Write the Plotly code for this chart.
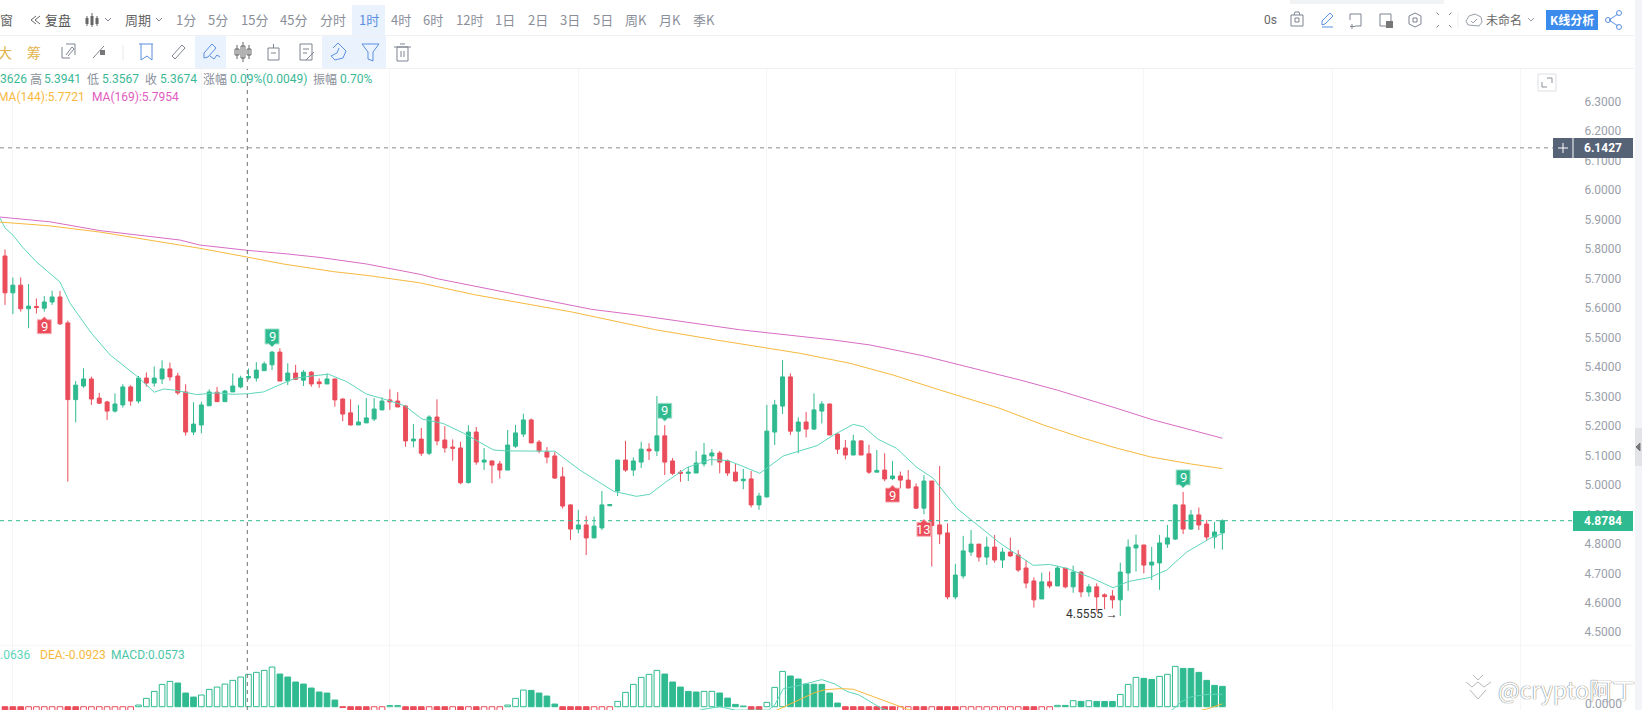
import plotly.graph_objects as go

W, H = 1649, 710

open_ = [5.776,5.651,5.677,5.597,5.605,5.599,5.620,5.637,5.549,5.289,5.335,5.359,5.294,5.281,5.250,5.271,5.332,5.284,5.362,5.345,5.359,5.393,5.369,5.315,5.179,5.203,5.268,5.314,5.282,5.315,5.332,5.3626,5.362,5.387,5.407,5.450,5.352,5.379,5.355,5.382,5.349,5.342,5.359,5.291,5.244,5.203,5.210,5.223,5.254,5.288,5.284,
5.267,5.149,5.155,5.107,5.230,5.152,5.128,5.125,5.008,5.179,5.077,5.081,5.071,5.050,5.131,5.172,5.220,5.145,5.112,5.098,5.027,4.932,4.850,4.864,4.820,4.854,4.929,4.979,5.084,5.050,5.077,5.121,5.115,5.166,5.081,5.043,5.039,5.040,5.071,5.098,5.108,5.081,5.043,5.014,5.020,4.932,4.959,5.179,5.267,5.366,5.182,5.213,5.189,5.250,5.274,
5.172,5.125,5.101,5.149,5.105,5.043,5.050,5.021,5.030,5.016,4.993,4.921,5.013,4.864,4.837,4.620,4.691,4.772,4.799,4.755,4.789,4.745,4.772,4.762,4.718,4.674,4.613,4.671,4.657,4.717,4.654,4.704,4.637,4.654,4.627,4.623,4.610,4.701,4.786,4.796,4.728,4.735,4.799,4.816,4.932,4.850,4.898,4.867,4.823,4.837]
high = [5.798,5.703,5.703,5.681,5.632,5.640,5.658,5.657,5.557,5.352,5.395,5.367,5.312,5.285,5.310,5.341,5.338,5.369,5.381,5.401,5.422,5.414,5.380,5.341,5.280,5.282,5.324,5.332,5.322,5.378,5.370,5.3941,5.416,5.418,5.454,5.463,5.412,5.407,5.389,5.386,5.361,5.378,5.360,5.293,5.290,5.271,5.294,5.294,5.297,5.324,5.314,
5.271,5.206,5.193,5.236,5.290,5.199,5.154,5.146,5.202,5.196,5.125,5.082,5.081,5.186,5.203,5.241,5.225,5.152,5.128,5.111,5.060,4.934,4.915,4.895,4.892,4.979,4.933,5.084,5.149,5.093,5.146,5.141,5.301,5.202,5.091,5.050,5.062,5.115,5.142,5.121,5.115,5.086,5.071,5.054,5.047,4.973,5.271,5.288,5.423,5.378,5.229,5.247,5.310,5.284,5.276,
5.175,5.152,5.170,5.152,5.136,5.118,5.107,5.081,5.045,5.050,5.005,5.033,5.013,5.064,4.869,4.732,4.827,4.847,4.799,4.824,4.830,4.786,4.821,4.779,4.745,4.686,4.702,4.706,4.725,4.718,4.726,4.708,4.664,4.666,4.632,4.643,4.736,4.815,4.831,4.796,4.790,4.830,4.864,4.935,4.976,4.915,4.923,4.881,4.874,4.883]
low = [5.610,5.579,5.587,5.531,5.581,5.587,5.610,5.542,5.011,5.212,5.329,5.271,5.274,5.220,5.245,5.262,5.268,5.276,5.333,5.333,5.342,5.353,5.305,5.167,5.169,5.175,5.268,5.282,5.281,5.315,5.327,5.3567,5.350,5.387,5.389,5.352,5.338,5.355,5.335,5.333,5.329,5.342,5.265,5.216,5.201,5.203,5.210,5.216,5.254,5.254,5.264,
5.129,5.127,5.098,5.101,5.134,5.109,5.082,5.002,5.004,5.068,5.050,5.005,5.021,5.050,5.125,5.162,5.142,5.107,5.073,5.020,4.920,4.813,4.836,4.762,4.820,4.847,4.929,4.962,5.044,5.030,5.057,5.084,5.098,5.033,5.033,5.010,5.013,5.040,5.062,5.066,5.039,5.030,5.011,4.985,4.923,4.915,4.957,5.135,5.240,5.169,5.107,5.161,5.186,5.208,5.169,
5.105,5.086,5.101,5.101,5.037,5.043,5.012,5.016,4.988,4.989,4.918,4.900,4.723,4.799,4.612,4.612,4.682,4.759,4.740,4.728,4.736,4.718,4.755,4.705,4.649,4.584,4.613,4.649,4.657,4.649,4.634,4.619,4.621,4.570,4.578,4.581,4.5555,4.641,4.706,4.700,4.677,4.644,4.786,4.813,4.833,4.847,4.847,4.811,4.784,4.780]
close = [5.651,5.677,5.597,5.606,5.601,5.620,5.637,5.546,5.289,5.338,5.359,5.291,5.277,5.250,5.274,5.332,5.284,5.362,5.345,5.362,5.393,5.366,5.312,5.179,5.206,5.271,5.315,5.282,5.318,5.335,5.362,5.3674,5.389,5.410,5.450,5.352,5.379,5.358,5.382,5.342,5.343,5.359,5.288,5.240,5.203,5.213,5.227,5.257,5.284,5.281,5.264,
5.149,5.155,5.107,5.230,5.149,5.125,5.124,5.007,5.179,5.077,5.084,5.067,5.050,5.135,5.176,5.220,5.142,5.115,5.094,5.023,4.928,4.850,4.864,4.820,4.860,4.932,4.933,5.084,5.050,5.081,5.121,5.115,5.166,5.077,5.039,5.039,5.043,5.074,5.101,5.108,5.077,5.040,5.013,5.019,4.932,4.962,5.182,5.271,5.366,5.182,5.213,5.189,5.254,5.274,5.169,
5.121,5.101,5.149,5.101,5.043,5.049,5.020,5.030,5.016,4.989,4.921,5.013,4.862,4.833,4.620,4.694,4.776,4.799,4.755,4.789,4.745,4.772,4.759,4.711,4.667,4.610,4.671,4.657,4.718,4.654,4.704,4.637,4.654,4.620,4.621,4.610,4.704,4.789,4.796,4.728,4.738,4.803,4.820,4.932,4.850,4.898,4.864,4.823,4.840,4.8784]
candle_index = list(range(len(close)))

ma_x = [-0.64,0,1,2.2,4,5.7,7,8.3,11,13.4,17,19,20.2,21.6,24.4,27,29,31,32.9,34.6,36.9,39.3,41.2,43.5,46,48.6,50.9,53.1,55.8,58.4,62.2,63.9,70,73.2,77.5,80.4,82.1,84.2,86.8,89.8,92.1,94,96.1,99.1,101.2,103.4,105.5,108,109.3,111.2,113.5,116.1,118.2,121.2,123.3,126.7,130.9,133,135.2,138.2,141.1,143,145.8,147.9,150.5,153.8,155]
ma_v = [5.905,5.871,5.847,5.807,5.756,5.718,5.688,5.615,5.514,5.440,5.364,5.314,5.325,5.321,5.306,5.312,5.307,5.309,5.315,5.335,5.361,5.370,5.375,5.350,5.308,5.288,5.268,5.223,5.208,5.175,5.118,5.115,5.114,5.050,4.978,4.961,4.968,5.011,5.058,5.086,5.082,5.062,5.039,5.098,5.116,5.133,5.169,5.205,5.197,5.154,5.124,5.059,5.022,4.920,4.875,4.802,4.727,4.730,4.717,4.686,4.651,4.672,4.686,4.711,4.773,4.824,4.834]
ma144_x = [-0.64,5.7,12.1,24.8,30.9,35.4,41.8,46.4,52.8,59.9,72,82.8,90.6,97,101.2,107.6,113.1,119.1,126.7,132.2,137.3,141.6,145.8,150.9,155]
ma144_v = [5.891,5.878,5.857,5.802,5.772,5.749,5.723,5.709,5.685,5.644,5.587,5.526,5.491,5.463,5.446,5.412,5.372,5.321,5.259,5.203,5.158,5.124,5.095,5.071,5.055]
ma169_x = [-0.64,3.6,5.7,12.1,22.3,24.8,30.9,35.9,40.1,46,52.8,55.2,74.7,80.1,93.5,105.5,110.2,117,123.3,129.3,134,136.5,141.6,146.2,151.3,155]
ma169_v = [5.908,5.898,5.892,5.862,5.830,5.813,5.795,5.783,5.771,5.749,5.714,5.698,5.595,5.577,5.526,5.491,5.474,5.437,5.395,5.355,5.321,5.301,5.259,5.220,5.184,5.158]

macd_hist = [-0.05,-0.06,-0.07,-0.065,-0.06,-0.055,-0.05,-0.045,-0.09,-0.11,-0.10,-0.09,-0.08,-0.07,-0.055,-0.04,-0.02,
0.003,0.0148,0.0271,0.0395,0.0448,0.0419,0.0242,0.0171,0.0207,0.0307,0.0348,0.0401,0.0466,0.0525,0.0573,0.0608,0.0643,0.0702,0.0578,0.0525,0.0437,0.0401,0.0330,0.0260,0.0242,0.0118,
-0.0015,-0.012,-0.02,-0.03,-0.025,-0.02,0.002,0.002,-0.01,-0.02,-0.03,-0.028,-0.035,-0.04,-0.035,-0.04,-0.035,-0.04,-0.035,-0.025,-0.012,
0.003,0.0148,0.0295,0.0289,0.0242,0.0189,0.0047,-0.01,-0.02,-0.03,-0.04,-0.035,-0.03,-0.02,
0.0094,0.0254,0.0395,0.0519,0.0573,0.0643,0.0578,0.0437,0.0348,0.0271,0.0260,0.0271,0.0272,0.0242,0.0153,0.0041,0.0012,-0.005,-0.01,
0.0077,0.0342,0.0625,0.0543,0.0490,0.0401,0.0398,0.0395,0.0242,0.0065,
-0.005,-0.01,-0.015,-0.02,-0.025,-0.03,-0.035,-0.03,-0.025,-0.03,-0.035,-0.03,-0.035,-0.04,-0.045,-0.042,-0.039,-0.036,-0.033,-0.03,-0.027,-0.024,-0.021,-0.025,-0.03,-0.02,-0.01,
0.0024,0.0023,0.0106,0.0094,0.0106,0.0094,0.0093,0.0092,0.0218,0.0395,0.0519,0.0502,0.0484,0.0537,0.0573,0.0714,0.0678,0.0677,0.0608,0.0466,0.0378,0.0360]
dif_x = [31,80,88.7,91,93,97.2,98,99.1,101.2,104,105.7,107.2,108.7,111.6,113,130,148.6,149.8,151.1,153.2,155]
dif_v = [-0.0636,-0.05,-0.005,0.0,-0.006,-0.006,0.003,0.032,0.038,0.048,0.040,0.027,0.021,-0.003,-0.009,-0.05,-0.006,0.009,0.018,0.022,0.022]
dea_x = [31,80,98.3,103.1,104.4,106.3,108,111.6,115,130,152.8,155]
dea_v = [-0.0923,-0.06,-0.006,0.025,0.030,0.032,0.031,0.013,-0.005,-0.06,-0.005,0.005]

price_ticks = [4.5,4.6,4.7,4.8,4.9,5.0,5.1,5.2,5.3,5.4,5.5,5.6,5.7,5.8,5.9,6.0,6.1,6.2,6.3]
last_price = 4.8784
mark_price = 6.1427
crosshair_index = 30.85
up_signals = [(34,"9"),(84,"9"),(150,"9")]
down_signals = [(5,"9"),(113,"9"),(117,"13")]

toolbar_items = [("1分",176),("5分",208),("15分",241),("45分",280),("分时",320),("4时",391),("6时",423),("12时",456),("1日",495),("2日",528),("3日",560),("5日",593),("周K",625),("月K",659),("季K",693)]

UP = "#2fba8f"; DOWN = "#ea4c5a"; TEAL = "#5ed6bb"; ORANGE = "#f7b93e"; PINK = "#d86cc4"
TICK = "#9aa0aa"; RULE = "#eef0f3"; CJK = "Noto Sans CJK SC"; ROB = "Roboto"

def px(x): return x / W
def py(y): return 1 - y / H

shapes, annots = [], []

def text(x, y, s, color="#8a8f99", size=13, family=CJK, anchor="left", weight=None, **kw):
    f = dict(family=family, size=size, color=color)
    if weight: f["weight"] = weight
    f.update(kw)
    annots.append(dict(xref="paper", yref="paper", x=px(x), y=py(y), text=s, showarrow=False,
                       xanchor=anchor, yanchor="middle", font=f, borderpad=0, borderwidth=0))

def rect(x0, y0, x1, y1, fill, line=None, layer="below"):
    shapes.append(dict(type="rect", xref="paper", yref="paper", x0=px(x0), x1=px(x1), y0=py(y0), y1=py(y1),
                       fillcolor=fill, line=dict(width=1 if line else 0, color=line or fill), layer=layer))

def poly(points, color="#7d8490", width=1, closed=False, fill=None):
    d = "M" + " L".join(f"{px(a):.5f},{py(b):.5f}" for a, b in points) + (" Z" if closed else "")
    s = dict(type="path", xref="paper", yref="paper", path=d, line=dict(color=color, width=width), layer="above")
    if fill: s["fillcolor"] = fill
    shapes.append(s)

def chevron(x, y, color="#7d8490"):
    poly([(x-3, y-2), (x, y+1), (x+3, y-2)], color)

def box(x0, y0, x1, y1, color="#7d8490", width=1):
    poly([(x0,y0),(x1,y0),(x1,y1),(x0,y1)], color, width, closed=True)

BLUE = "#5b8fe0"
# chrome backgrounds
rect(1290, 0, 1444, 4, "#f2f3f5")
rect(352, 5, 385, 35, "#e9f2fd")
rect(195, 36, 226, 68, "#eaf3fd")
rect(322, 36, 386, 68, "#eaf3fd")
rect(1635, 0, 1642, 710, "#f3f4f7")
rect(1635, 428, 1642, 466, "#e2e4e8")
poly([(1640, 443), (1640, 451), (1636, 447)], "#777", closed=True, fill="#777")
for yy in (35.5, 68.5):
    poly([(0, yy), (1634, yy)], RULE)
poly([(0, 645.7), (1634, 645.7)], "#f5f6f8")

# row 1 text
text(0, 20, "窗", "#666", anchor="left")
text(45, 20, "复盘", "#555")
text(125, 20, "周期", "#666")
for s, x in toolbar_items:
    text(x, 20, s)
text(359, 20, "1时", BLUE)
poly([(36,16),(31,20),(36,24)], "#666"); poly([(40,16),(35,20),(40,24)], "#666")
for xx, a, b, c, d in ((87, 16, 26, 18, 24), (92, 13, 27, 16, 25), (97, 16, 26, 18, 24)):
    poly([(xx, a), (xx, b)], "#666"); rect(xx-1.5, c, xx+1.5, d, "#666", layer="above")
chevron(108, 20); chevron(159, 20)
# right row 1
text(1270, 20, "0s", "#666", size=12, family=ROB, anchor="center")
box(1291, 15, 1303, 26); poly([(1294,15),(1295,12),(1299,12),(1300,15)]); box(1295, 18, 1299, 22)
poly([(1322,25),(1322,21),(1330,13),(1333,16),(1325,24),(1322,25)], BLUE); poly([(1322,27),(1333,27)], BLUE)
poly([(1350,14),(1361,14),(1361,26),(1355,26)]); poly([(1350,14),(1350,20)]); poly([(1352,24),(1352,29)]); poly([(1350,26.5),(1355,26.5)])
box(1380, 14, 1391, 26); rect(1386, 21, 1393, 28, "#777", layer="above")
poly([(1415,13),(1421,16),(1421,24),(1415,27),(1409,24),(1409,16)], closed=True); box(1413, 18, 1417, 22)
for sx, sy in ((-1,-1),(1,-1),(-1,1),(1,1)):
    cx, cy = 1444 + sx*5, 20 + sy*5
    poly([(cx, cy - sy*0 ), (cx + sx*2.5, cy + sy*2.5)])
poly([(1458, 12), (1458, 28)], RULE)
poly([(1468,25),(1466,21),(1469,16),(1475,14),(1481,17),(1482,22),(1479,26)], "#9aa0aa", closed=True)
poly([(1471,21),(1473,23),(1477,19)], "#9aa0aa")
text(1486, 20, "未命名", "#666", size=12)
chevron(1531, 20, "#9aa0aa")
shapes.append(dict(type="rect", xref="paper", yref="paper", x0=px(1546), x1=px(1598), y0=py(10), y1=py(30), fillcolor="#3b8bec", line=dict(width=0), layer="above"))
text(1572, 20, "K线分析", "#ffffff", size=12, anchor="center", weight=700)
poly([(1609,20),(1618,14)], BLUE); poly([(1609,20),(1618,26)], BLUE)
for cx, cy in ((1608,20),(1619,13),(1619,27)):
    shapes.append(dict(type="circle", xref="paper", yref="paper", x0=px(cx-2.5), x1=px(cx+2.5), y0=py(cy-2.5), y1=py(cy+2.5), line=dict(color=BLUE, width=1), layer="above"))

# row 2 icons
text(-2, 52, "大", "#e2b44c", size=14)
text(27, 52, "筹", "#e2b44c", size=14)
poly([(62,47),(62,58),(70,58)]); poly([(66,44),(75,44),(75,55)]); poly([(66,55),(72,47),(74,49),(68,56)])
poly([(93,58),(104,46)]); rect(100, 50, 105, 55, "#777", layer="above")
poly([(123, 45), (123, 60)], "#e6e8ec")
poly([(139,44),(153,44)], BLUE); poly([(141,44),(141,60),(147,56),(152,60),(152,44)], BLUE)
poly([(172,56),(182,45),(185,48),(175,59)], "#7d8490", closed=True)
poly([(204,58),(204,53),(212,44),(216,48),(208,57),(204,58)], BLUE); poly([(210,56),(214,59),(217,55),(220,57)], BLUE)
for xx, t, b in ((237,47,57),(243,44,60),(249,47,57)):
    poly([(xx,t-2),(xx,b+2)], "#666"); box(xx-2, t+2, xx+2, b-2, "#666")
box(268, 48, 279, 60); poly([(273.5,44),(273.5,48)]); poly([(271,53),(276,53)])
box(300, 44, 312, 60); poly([(303,49),(309,49)]); poly([(303,53),(307,53)]); poly([(306,60),(314,52)])
poly([(333,48),(338,43),(346,51),(343,58),(335,60),(331,56),(337,53),(339,48)], BLUE, closed=False)
poly([(362,44),(379,44),(373,52),(373,61),(368,59),(368,52)], BLUE, closed=True)
box(397, 47, 408, 61); poly([(394,47),(411,47)]); poly([(400,44),(405,44)]); poly([(401,51),(401,57)]); poly([(404,51),(404,57)])

# expand icon
box(1538, 74, 1556, 91, "#dcdfe4")
poly([(1547,78),(1552,78),(1552,83)], "#8a8f99"); poly([(1542,82),(1542,87),(1547,87)], "#8a8f99")

# header texts
G2 = "#3bb996"; GY = "#8a8f99"
for x, s, c in ((0,"3626",G2),(30,"高",GY),(44,"5.3941",G2),(87,"低",GY),(102,"5.3567",G2),(145,"收",GY),(160,"5.3674",G2),(203,"涨幅",GY),(230,"0.09%(0.0049)",G2),(313,"振幅",GY),(340,"0.70%",G2)):
    text(x, 79, s, c, size=12, family=(CJK if s in ("高","低","收","涨幅","振幅") else ROB))
text(-2, 97, "MA(144):5.7721", ORANGE, size=12, family=ROB)
text(92, 97, "MA(169):5.7954", "#e05cc0", size=12, family=ROB)
text(0, 654.7, ".0636", TEAL, size=12, family=ROB)
text(40, 654.7, "DEA:-0.0923", ORANGE, size=12, family=ROB)
text(111, 654.7, "MACD:0.0573", "#4cc5a8", size=12, family=ROB)

# dashed levels and crosshair
x_dom_end = 1573 / W
shapes.append(dict(type="line", xref="paper", yref="y", x0=0, x1=px(1553), y0=mark_price, y1=mark_price, line=dict(color="#8d8d8d", width=1, dash="4px,4px"), layer="above"))
shapes.append(dict(type="line", xref="paper", yref="y", x0=0, x1=px(1573), y0=last_price, y1=last_price, line=dict(color=UP, width=1, dash="4px,4px"), layer="above"))
shapes.append(dict(type="line", xref="x", yref="paper", x0=crosshair_index, x1=crosshair_index, y0=0, y1=py(69), line=dict(color="#707070", width=1, dash="4px,4px"), layer="above"))

# price tags
shapes.append(dict(type="rect", xref="paper", yref="paper", x0=px(1553), x1=px(1633), y0=py(138), y1=py(158), fillcolor="#566377", line=dict(width=0), layer="above"))
poly([(1573, 138), (1573, 158)], "#ffffff")
poly([(1558,148),(1568,148)], "#ffffff"); poly([(1563,143),(1563,153)], "#ffffff")
text(1603, 148, f"{mark_price:.4f}", "#ffffff", size=12, family=ROB, anchor="center", weight=700)
shapes.append(dict(type="rect", xref="paper", yref="paper", x0=px(1573), x1=px(1633), y0=py(511), y1=py(531), fillcolor=UP, line=dict(width=0), layer="above"))
text(1603, 521, f"{last_price:.4f}", "#ffffff", size=12, family=ROB, anchor="center", weight=700)

# signal tags
for i, s in up_signals:
    shapes.append(dict(type="path", xref="x", yref="y", xsizemode="pixel", ysizemode="pixel", xanchor=i, yanchor=high[i],
                       path="M0,4 L-3,7 L-7,7 L-7,22 L7,22 L7,7 L3,7 Z", fillcolor=UP, line=dict(width=1, color="#a9e4d0"), layer="above"))
    annots.append(dict(xref="x", yref="y", x=i, y=high[i], yshift=14.5, text=s, showarrow=False, font=dict(family=ROB, size=13, color="#fff"), yanchor="middle"))
for i, s in down_signals:
    shapes.append(dict(type="path", xref="x", yref="y", xsizemode="pixel", ysizemode="pixel", xanchor=i, yanchor=low[i],
                       path="M0,-5 L-3,-8 L-7,-8 L-7,-22 L7,-22 L7,-8 L3,-8 Z", fillcolor=DOWN, line=dict(width=1, color="#f7b3b9"), layer="above"))
    annots.append(dict(xref="x", yref="y", x=i, y=low[i], yshift=-15, text=s, showarrow=False, font=dict(family=ROB, size=13, color="#fff"), yanchor="middle"))

# lowest-price note
low_i = low.index(min(low))
annots.append(dict(xref="x", yref="y", x=low_i, y=low[low_i], xshift=0, yshift=2, xanchor="right", yanchor="middle", text=f"{low[low_i]:.4f} →", showarrow=False, font=dict(family=ROB, size=12, color="#333")))

# watermark
poly([(1466,682),(1472,687),(1478,682),(1484,687),(1491,682)], "#b5b8bd")
poly([(1473,675),(1478,680),(1483,675)], "#b5b8bd")
poly([(1470,690),(1478,699),(1486,690)], "#b5b8bd")
text(1498, 689, "@crypto阿丁", "#ffffff", size=23, family="Noto Sans CJK SC", shadow="0 0 1px #777, 0 0 1px #777")

# zero label of the MACD pane, as in the reference, sits at the canvas bottom
text(1585, 703.5, "0.0000", TICK, size=12, family=ROB)

# hollow bars: rising histogram is hollow, falling is filled
bar_fill, bar_line = [], []
for i, v in enumerate(macd_hist):
    c = UP if v >= 0 else DOWN
    rising = i > 0 and v >= macd_hist[i-1]
    bar_fill.append("#ffffff" if rising else c)
    bar_line.append(c)

fig = go.Figure()
fig.add_trace(go.Candlestick(x=candle_index, open=open_, high=high, low=low, close=close,
    increasing=dict(line=dict(color=UP, width=1), fillcolor=UP),
    decreasing=dict(line=dict(color=DOWN, width=1), fillcolor=DOWN),
    whiskerwidth=0, hoverinfo="skip", showlegend=False))
for xs, vs, c in ((ma_x, ma_v, TEAL), (ma144_x, ma144_v, ORANGE), (ma169_x, ma169_v, PINK)):
    fig.add_trace(go.Scatter(x=xs, y=vs, mode="lines", line=dict(color=c, width=1), hoverinfo="skip", showlegend=False))
fig.add_trace(go.Bar(x=candle_index, y=macd_hist, yaxis="y2", width=0.72,
    marker=dict(color=bar_fill, line=dict(color=bar_line, width=1)), hoverinfo="skip", showlegend=False))
fig.add_trace(go.Scatter(x=dif_x, y=dif_v, yaxis="y2", mode="lines", line=dict(color=TEAL, width=1), hoverinfo="skip", showlegend=False))
fig.add_trace(go.Scatter(x=dea_x, y=dea_v, yaxis="y2", mode="lines", line=dict(color=ORANGE, width=1), hoverinfo="skip", showlegend=False))

split = 1 - 646 / H
fig.update_layout(
    width=W, height=H, autosize=False, margin=dict(l=0, r=0, t=0, b=0),
    paper_bgcolor="#ffffff", plot_bgcolor="#ffffff", showlegend=False, boxgap=0.28,
    shapes=shapes, annotations=annots, dragmode=False,
    xaxis=dict(domain=[0, x_dom_end], range=[-0.637, 199.64], rangeslider=dict(visible=False), tick0=1, dtick=24,
               showgrid=True, gridcolor="#f4f5f7", gridwidth=1, showticklabels=False, ticks="", zeroline=False, showline=False, anchor="y2"),
    yaxis=dict(domain=[split, 1 - 69 / H], range=[4.4535, 6.410], side="right", anchor="x", tickvals=price_ticks, tickformat=".4f",
               tickfont=dict(family=ROB, size=12, color=TICK), ticks="outside", ticklen=8, tickcolor="rgba(0,0,0,0)",
               showgrid=False, zeroline=False, showline=False),
    yaxis2=dict(domain=[0, split], range=[-0.0058, 0.1074], side="right", anchor="x", showticklabels=False, ticks="",
                showgrid=False, zeroline=False, showline=False),
)
fig.write_html("out.html", post_script="document.body.style.margin='0';document.body.style.overflow='hidden';", config=dict(displayModeBar=False))
